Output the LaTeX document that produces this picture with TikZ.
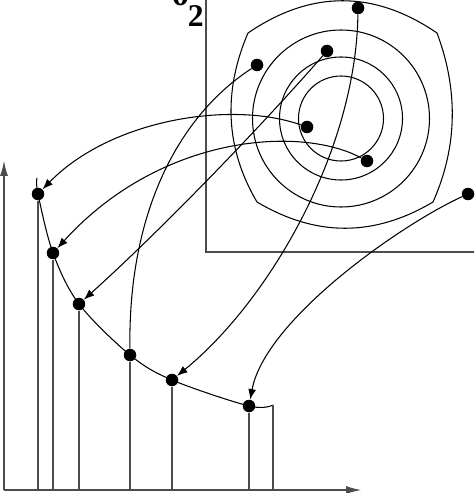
\documentclass[tikz,border=0pt]{standalone}
\usepackage{fontspec}
\newfontfamily\tmsfont{Liberation Serif}
\usetikzlibrary{arrows.meta}
\begin{document}
\begin{tikzpicture}[x=0.02cm,y=-0.02cm,
  dot/.style={circle,fill=black,inner sep=0pt,minimum size=7pt},
  thinline/.style={line width=0.6pt,black},
  dropline/.style={line width=0.75pt,black!70},
  frameline/.style={line width=1.1pt,black!70},
  arr/.style={thinline,-{Latex[length=6pt,width=4.5pt]}},
  axisarr/.style={frameline,-{Latex[length=9pt,width=4.5pt]}}
]
\useasboundingbox (0,0) rectangle (474,493);
\clip (0,0) rectangle (474,493);

% label
\node[anchor=base west,inner sep=0pt] (lab) at (171,6)
  {{\tmsfont\fontsize{20}{20}\selectfont\bfseries θ}\kern-1pt\raisebox{-11.5pt}{\tmsfont\fontsize{18}{18}\selectfont\bfseries 2}};

% frame of the upper-right space
\coordinate (FT) at (206,-3);
\coordinate (FC) at (206,252);
\coordinate (FR) at (478,252);
\draw[frameline] (FT) -- (FC) -- (FR);

% contours
\coordinate (M) at (341,118.5);
\draw[thinline] (M) circle (42.5);
\draw[thinline] (M) circle (61.5);
\draw[thinline] (M) circle (88.5);
\coordinate (K1) at (248,33);
\coordinate (K2) at (437,33);
\coordinate (K3) at (433,202);
\coordinate (K4) at (257,202);
\draw[thinline] (K1) .. controls (311,-10) and (374,-10) .. (K2)
  .. controls (458,89) and (458,146) .. (K3)
  .. controls (374,237) and (316,237) .. (K4)
  .. controls (224,146) and (224,89) .. (K1) -- cycle;

% axes
\coordinate (O) at (4,490);
\coordinate (YE) at (4,160);
\coordinate (XE) at (362,490);
\draw[axisarr] (O) -- (YE);
\draw[axisarr] (O) -- (XE);

% points in upper-right space
\node[dot] (A) at (358,8) {};
\node[dot] (B) at (327,51) {};
\node[dot] (C) at (257,65) {};
\node[dot] (D) at (307,127) {};
\node[dot] (E) at (367,161) {};
\node[dot] (F) at (468,194) {};

% front points
\coordinate (S) at (37,178);
\node[dot] (P1) at (38,194) {};
\node[dot] (P2) at (53,253) {};
\node[dot] (P3) at (79,304) {};
\node[dot] (P4) at (130,355) {};
\node[dot] (P5) at (172,380) {};
\node[dot] (P6) at (249,406) {};
\coordinate (Q) at (273,405);

% front curve
\draw[thinline] plot[smooth,tension=0.55] coordinates {(S) (P1) (P2) (P3) (P4) (P5) (P6) (Q)};
\draw[dropline] (Q) -- (Q |- O);
\foreach \p in {P1,P2,P3,P4,P5,P6}{
  \draw[dropline] (\p) -- (\p |- O);
}

% mapping arrows
\draw[arr] (D) .. controls (230,100) and (110,120) .. (P1);
\draw[arr] (E) .. controls (300,125) and (160,135) .. (P2);
\draw[arr] (B) .. controls (257,131) and (159,232) .. (P3);
\draw[thinline] (C) .. controls (180,115) and (128,210) .. (P4);
\draw[arr] (A) .. controls (356,150) and (270,300) .. (P5);
\draw[arr] (F) .. controls (400,225) and (265,320) .. (P6);

% redraw dots on top
\foreach \p in {A,B,C,D,E,F,P1,P2,P3,P4,P5,P6}{
  \fill (\p) circle (3.5pt);
}
\end{tikzpicture}
\end{document}
